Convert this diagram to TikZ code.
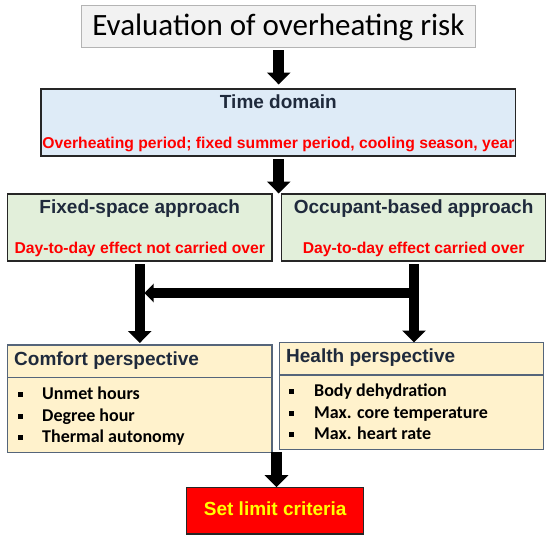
\documentclass[tikz,border=0pt]{standalone}
\usepackage{fontspec}
\setmainfont{Liberation Sans}
\newfontfamily\carl{Carlito}
\usetikzlibrary{arrows.meta}
\definecolor{hdr}{HTML}{1F2A3C}
\definecolor{ttlf}{HTML}{F2F2F2}
\definecolor{ttlb}{HTML}{B4B4B4}
\definecolor{bluef}{HTML}{DEEBF7}
\definecolor{greenf}{HTML}{E2EFDA}
\definecolor{yelf}{HTML}{FFF2CC}
\definecolor{slate}{HTML}{55657A}
\definecolor{darkb}{HTML}{262626}
\definecolor{txtred}{HTML}{FF0000}
\definecolor{txtyel}{HTML}{FFFF00}
\begin{document}
\begin{tikzpicture}[x=1pt,y=-1pt,
  box/.style={draw=darkb, inner sep=0pt, outer sep=0pt, anchor=north west, line width=1.2pt},
  headtxt/.style={anchor=base, inner sep=0pt, text=hdr, font=\fontsize{19}{22}\selectfont\bfseries},
  redtxt/.style={anchor=base, inner sep=0pt, text=txtred, font=\fontsize{15.7}{18}\selectfont\bfseries},
  itemtxt/.style={anchor=base west, inner sep=0pt, font=\carl\fontsize{18}{21}\selectfont\bfseries},
  bul/.style={fill=black, inner sep=0pt, minimum size=5pt},
  bigarrow/.style={line width=10.5pt, -{Triangle[width=23pt,length=12pt]}},
  sidearrow/.style={line width=10pt, -{Triangle[width=18pt,length=9pt]}}
]
\useasboundingbox (0,0) rectangle (550,539);

% boxes
\node[box, draw=ttlb, fill=ttlf, line width=0.8pt, minimum width=394.5pt, minimum height=42.7pt] (title) at (81,5) {};
\node[box, fill=bluef, minimum width=474.7pt, minimum height=67pt] (time) at (41,89) {};
\node[box, fill=greenf, minimum width=264.2pt, minimum height=67pt] (fixed) at (7.7,194) {};
\node[box, fill=greenf, minimum width=263.8pt, minimum height=67pt] (occ) at (281.7,194) {};
\node[box, draw=slate, fill=yelf, minimum width=264.2pt, minimum height=107.3pt] (comfort) at (7.7,345) {};
\node[box, draw=slate, fill=yelf, minimum width=264.1pt, minimum height=106.6pt] (health) at (279.6,342.7) {};
\node[box, fill=red, minimum width=177.2pt, minimum height=46.3pt] (limit) at (186.6,487.7) {};

% dividers
\coordinate (cdiv) at (0,377.3);
\coordinate (hdiv) at (0,375);
\draw[slate, line width=1.2pt] (comfort.west |- cdiv) -- (comfort.east |- cdiv);
\draw[slate, line width=1.2pt] (health.west |- hdiv) -- (health.east |- hdiv);

% texts
\node[anchor=base, inner sep=0pt, font=\carl\fontsize{31}{36}\selectfont] (titletxt) at (278.4,35.5) {Evaluation of overheating risk};
\node[headtxt] (timetxt) at (278.4,108) {Time domain};
\node[redtxt] (timered) at (278.4,148.5) {Overheating period; fixed summer period, cooling season, year};
\node[headtxt] (fixedtxt) at (139.8,213.5) {Fixed-space approach};
\node[redtxt] (fixedred) at (139.8,253.5) {Day-to-day effect not carried over};
\node[headtxt] (occtxt) at (413.6,213.5) {Occupant-based approach};
\node[redtxt] (occred) at (413.6,253.5) {Day-to-day effect carried over};
\node[headtxt, anchor=base west] (comforttxt) at (14,365) {Comfort perspective};
\node[headtxt, anchor=base west] (healthtxt) at (286,362) {Health perspective};

\node[bul] (cb1) at (20,394.5) {};
\node[bul] (cb2) at (20,416) {};
\node[bul] (cb3) at (20,437.5) {};
\node[itemtxt] (ci1) at (42,399.5) {Unmet hours};
\node[itemtxt] (ci2) at (42,421) {Degree hour};
\node[itemtxt] (ci3) at (42,442.5) {Thermal autonomy};

\node[bul] (hb1) at (291,391.5) {};
\node[bul] (hb2) at (291,413) {};
\node[bul] (hb3) at (291,434.5) {};
\node[itemtxt] (hi1) at (314,396.5) {Body dehydration};
\node[itemtxt] (hi2) at (314,418) {Max. core temperature};
\node[itemtxt] (hi3) at (314,439.5) {Max. heart rate};

\node[anchor=base, inner sep=0pt, text=txtyel, font=\fontsize{19}{22}\selectfont\bfseries] (limittxt) at (275.2,515.5) {Set limit criteria};

% arrows
\coordinate (a1s) at (278.7,50);
\coordinate (a1e) at (278.7,84.5);
\draw[bigarrow] (a1s) -- (a1e);
\coordinate (a2s) at (278.7,159);
\coordinate (a2e) at (278.7,193.5);
\draw[bigarrow] (a2s) -- (a2e);
\draw[bigarrow] ([yshift=-3pt]fixed.south) -- ([yshift=2pt]comfort.north);
\coordinate (rs) at (414,264);
\coordinate (re) at (414,342.5);
\draw[bigarrow] (rs) -- (re);
\coordinate (hs) at (414,293);
\coordinate (he) at (144.5,293);
\draw[sidearrow] (hs) -- (he);
\coordinate (bs) at (276.5,452);
\coordinate (be) at (276.5,487.2);
\draw[bigarrow] (bs) -- (be);
\end{tikzpicture}
\end{document}
